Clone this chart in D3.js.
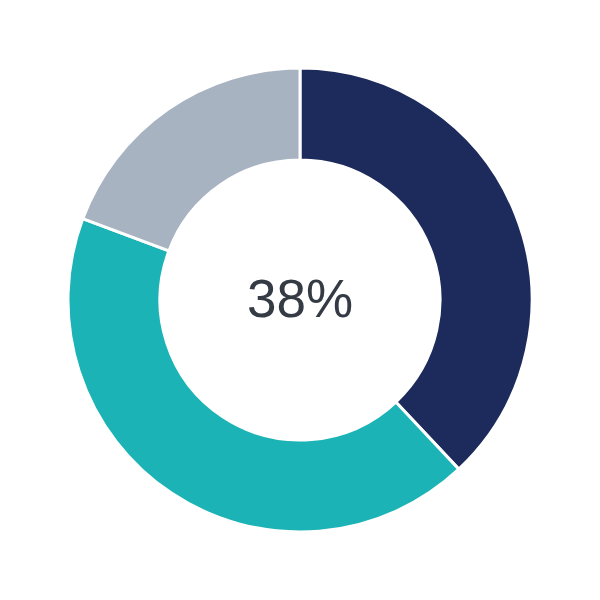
<!DOCTYPE html>
<html>
<head>
<script src="https://d3js.org/d3.v7.min.js"></script>
<style>
  body { margin: 0; background: #fff; }
</style>
</head>
<body>
<svg id="chart" width="600" height="600"></svg>
<script>
// segment data
const labels = ["A", "B", "C"];
const values = [38, 42.7, 19.3];
const colors = ["#1c2b5b", "#1bb3b5", "#a8b3c2"];
const centerLabel = "38%";

const svg = d3.select("#chart");
const w = 600, h = 600;
const outerR = 232, innerR = 140;

const g = svg.append("g").attr("transform", "translate(" + w / 2 + "," + h / 2 + ")");

const pie = d3.pie().sort(null).value(d => d)(values);
const arc = d3.arc().innerRadius(innerR).outerRadius(outerR);

g.selectAll("path")
  .data(pie)
  .join("path")
  .attr("d", arc)
  .attr("fill", (d, i) => colors[i])
  .attr("stroke", "#fff")
  .attr("stroke-width", 3);

g.append("text")
  .attr("text-anchor", "middle")
  .attr("y", 17)
  .attr("font-family", "Liberation Sans, Arial, sans-serif")
  .attr("font-size", 53)
  .attr("fill", "#353b45")
  .text(centerLabel);
</script>
</body>
</html>
